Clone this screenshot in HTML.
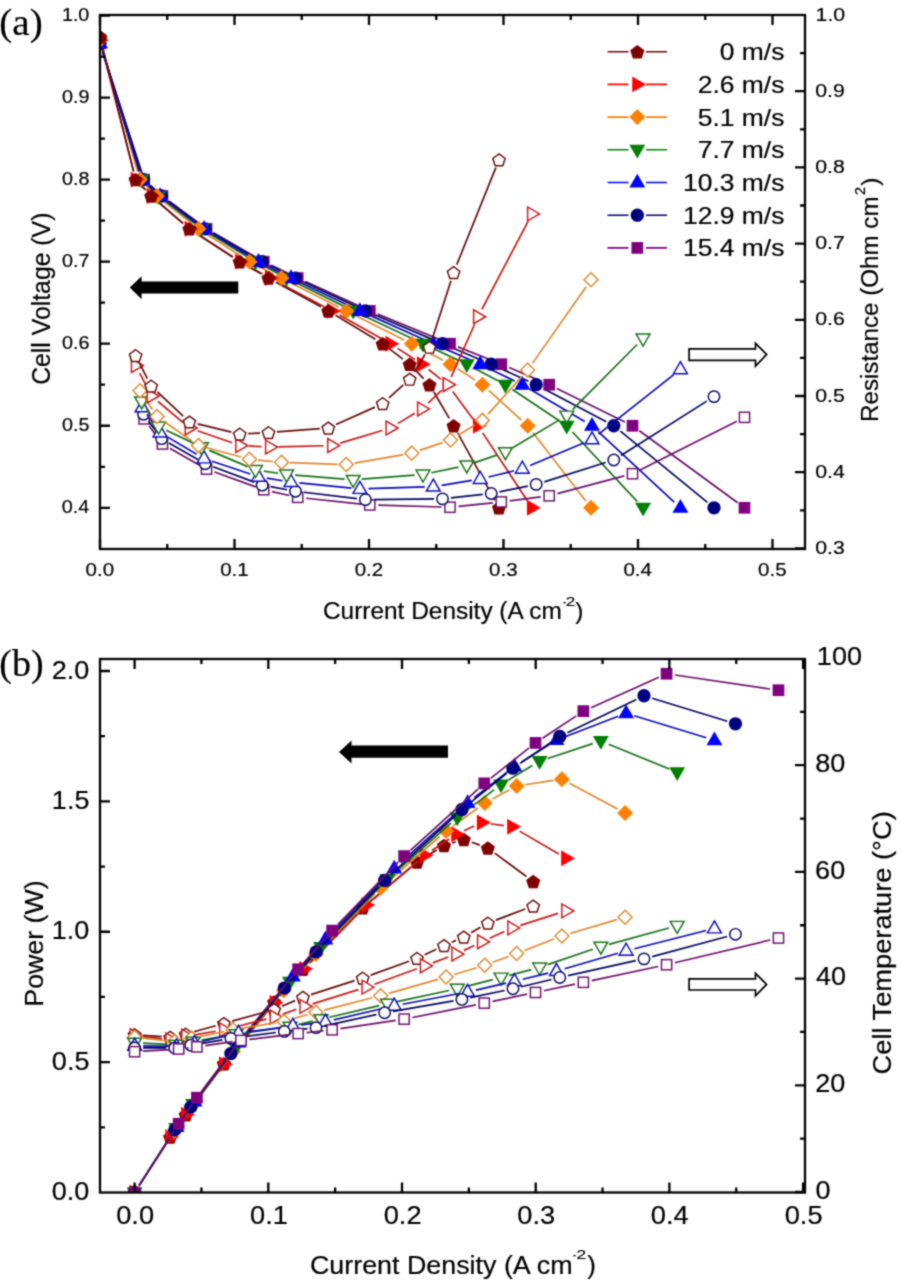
<!DOCTYPE html>
<html><head><meta charset="utf-8"><title>Figure</title>
<style>html,body{margin:0;padding:0;background:#fff;}svg{display:block;}
text{font-family:"Liberation Sans", sans-serif;fill:#000;stroke:#000;stroke-width:0.2px;}</style></head>
<body><svg width="901" height="1280" viewBox="0 0 901 1280">
<filter id="fb" x="0" y="0" width="901" height="1280" filterUnits="userSpaceOnUse" color-interpolation-filters="sRGB"><feConvolveMatrix order="3" kernelMatrix="1 2 1 2 8 2 1 2 1" divisor="20" edgeMode="duplicate"/></filter>
<g filter="url(#fb)">
<rect width="901" height="1280" fill="#fff"/>
<defs><clipPath id="ca"><rect x="101" y="16" width="703" height="532"/></clipPath>
<clipPath id="cb"><rect x="101" y="660" width="703" height="531.5"/></clipPath></defs>
<g clip-path="url(#ca)">
<path d="M102.11 48.35L133.69 171.37M141.7 185.72L145.7 189.89M158.03 201.57L183.17 223.27M196.73 233.46L233.07 257.02M247.65 265.75L262.55 273.96M277.52 282.03L324.58 306.91M339.51 315.04L383.09 339.54M397.62 348.34L414.88 359.57M428.64 369.51L441.06 379.42M452.75 391.56L472.95 418.91M482.67 432.85L527.33 500.7" fill="none" stroke="#c91717" stroke-width="1.7"/>
<path d="M102.34 48.29L137.66 171.43M146.12 185.5L150.88 190.11M163.67 201.28L191.83 223.56M205.65 233.43L242.35 257.05M257.06 265.53L273.94 274.18M289.08 281.9L338.72 307.04M353.9 314.69L404.2 339.89M419.31 347.68L442.99 360.23M457.65 368.81L475.25 380.13M488.7 390.43L521.4 420.04M532.89 432.48L585.81 501.07" fill="none" stroke="#e0872d" stroke-width="1.7"/>
<path d="M102.46 49.89L139.14 171.46M147.72 185.5L152.48 190.11M165.35 201.17L194.75 223.67M208.76 233.24L248.24 257.24M263.02 265.62L279.08 274.09M294.22 281.82L345.58 307.12M360.89 314.5L415.31 340.08M430.7 347.3L459.1 360.61M474.31 368.2L497.89 380.74M512.46 389.45L559.64 421.02M572.49 431.97L637.31 501.58" fill="none" stroke="#177017" stroke-width="1.7"/>
<path d="M102.62 51.48L141.48 171.51M150.43 185.27L156.07 190.34M169.22 201.08L199.68 223.76M213.87 233.06L256.33 257.42M271.36 265.34L290.04 274.37M305.44 281.58L362.06 307.36M377.67 314.1L442.13 340.48M457.89 346.86L493.41 361.06M509.11 367.56L541.39 381.38M556.83 388.48L624.87 421.99M639.36 430.77L737.64 502.78" fill="none" stroke="#691069" stroke-width="1.7"/>
<path d="M102.59 51.49L141.01 171.5M149.88 185.33L155.32 190.28M168.39 201.12L198.41 223.72M212.57 233.07L254.83 257.41M269.82 265.41L287.88 274.3M303.19 281.67L357.71 307.27M373.22 314.21L434.68 340.37M450.33 347L483.37 360.91M498.93 367.74L528.47 381.2M543.71 388.7L606.29 421.78M620.38 431.14L707.42 502.41" fill="none" stroke="#04045e" stroke-width="1.7"/>
<path d="M102.5 51.52L139.5 171.48M148.28 185.33L153.72 190.28M166.81 201.09L197.19 223.75M211.28 233.22L251.12 257.26M265.99 265.47L283.41 274.24M298.67 281.72L352.23 307.22M367.66 314.35L425.54 340.23M441.09 347.11L472.41 360.81M487.84 367.94L514.66 381M529.63 389.04L584.67 421.44M598.23 431.53L674.17 502.02" fill="none" stroke="#0909bb" stroke-width="1.7"/>
<path d="M102.06 45.08L133.54 171.35M141.46 185.76L145.34 189.85M157.65 201.55L182.95 223.29M196.52 233.47L232.58 257.01M247.09 265.86L261.11 273.85M275.95 282.15L320.85 306.79M335.58 315.27L375.42 339.31M389.47 348.84L402.93 359.07M415.6 370.33L423.6 378.61M433.81 392.05L449.29 418.42M457.72 433.19L494.88 500.36" fill="none" stroke="#650b0b" stroke-width="1.7"/>
<rect x="94.15" y="37.55" width="11.7" height="11.7" fill="#800080"/>
<rect x="138.25" y="173.75" width="11.7" height="11.7" fill="#800080"/>
<rect x="156.55" y="190.16" width="11.7" height="11.7" fill="#800080"/>
<rect x="200.65" y="222.98" width="11.7" height="11.7" fill="#800080"/>
<rect x="257.85" y="255.8" width="11.7" height="11.7" fill="#800080"/>
<rect x="291.85" y="272.21" width="11.7" height="11.7" fill="#800080"/>
<rect x="363.95" y="305.03" width="11.7" height="11.7" fill="#800080"/>
<rect x="444.15" y="337.85" width="11.7" height="11.7" fill="#800080"/>
<rect x="495.45" y="358.36" width="11.7" height="11.7" fill="#800080"/>
<rect x="543.35" y="378.87" width="11.7" height="11.7" fill="#800080"/>
<rect x="626.65" y="419.9" width="11.7" height="11.7" fill="#800080"/>
<rect x="738.65" y="501.95" width="11.7" height="11.7" fill="#800080"/>
<circle cx="100" cy="43.4" r="6.65" fill="#000080"/>
<circle cx="143.6" cy="179.6" r="6.65" fill="#000080"/>
<circle cx="161.6" cy="196.01" r="6.65" fill="#000080"/>
<circle cx="205.2" cy="228.83" r="6.65" fill="#000080"/>
<circle cx="262.2" cy="261.65" r="6.65" fill="#000080"/>
<circle cx="295.5" cy="278.06" r="6.65" fill="#000080"/>
<circle cx="365.4" cy="310.88" r="6.65" fill="#000080"/>
<circle cx="442.5" cy="343.7" r="6.65" fill="#000080"/>
<circle cx="491.2" cy="364.21" r="6.65" fill="#000080"/>
<circle cx="536.2" cy="384.72" r="6.65" fill="#000080"/>
<circle cx="613.8" cy="425.75" r="6.65" fill="#000080"/>
<circle cx="714" cy="507.8" r="6.65" fill="#000080"/>
<polygon points="100,50.5 92.03,36.7 107.97,36.7" fill="#008000"/>
<polygon points="141.6,188.34 133.63,174.54 149.57,174.54" fill="#008000"/>
<polygon points="158.6,204.75 150.63,190.95 166.57,190.95" fill="#008000"/>
<polygon points="201.5,237.57 193.53,223.77 209.47,223.77" fill="#008000"/>
<polygon points="255.5,270.39 247.53,256.59 263.47,256.59" fill="#008000"/>
<polygon points="286.6,286.8 278.63,273 294.57,273" fill="#008000"/>
<polygon points="353.2,319.62 345.23,305.82 361.17,305.82" fill="#008000"/>
<polygon points="423,352.44 415.03,338.64 430.97,338.64" fill="#008000"/>
<polygon points="466.8,372.95 458.83,359.15 474.77,359.15" fill="#008000"/>
<polygon points="505.4,393.46 497.43,379.66 513.37,379.66" fill="#008000"/>
<polygon points="566.7,434.49 558.73,420.69 574.67,420.69" fill="#008000"/>
<polygon points="643.1,516.54 635.13,502.74 651.07,502.74" fill="#008000"/>
<polygon points="100,34.66 107.97,48.46 92.03,48.46" fill="#0000ff"/>
<polygon points="142,170.86 149.97,184.66 134.03,184.66" fill="#0000ff"/>
<polygon points="160,187.27 167.97,201.07 152.03,201.07" fill="#0000ff"/>
<polygon points="204,220.09 211.97,233.89 196.03,233.89" fill="#0000ff"/>
<polygon points="258.4,252.91 266.37,266.71 250.43,266.71" fill="#0000ff"/>
<polygon points="291,269.32 298.97,283.12 283.03,283.12" fill="#0000ff"/>
<polygon points="359.9,302.14 367.87,315.94 351.93,315.94" fill="#0000ff"/>
<polygon points="433.3,334.96 441.27,348.76 425.33,348.76" fill="#0000ff"/>
<polygon points="480.2,355.47 488.17,369.27 472.23,369.27" fill="#0000ff"/>
<polygon points="522.3,375.98 530.27,389.78 514.33,389.78" fill="#0000ff"/>
<polygon points="592,417.01 599.97,430.81 584.03,430.81" fill="#0000ff"/>
<polygon points="680.4,499.06 688.37,512.86 672.43,512.86" fill="#0000ff"/>
<polygon points="100,32.12 108,40.12 100,48.12 92,40.12" fill="#ff8000"/>
<polygon points="140,171.6 148,179.6 140,187.6 132,179.6" fill="#ff8000"/>
<polygon points="157,188.01 165,196.01 157,204.01 149,196.01" fill="#ff8000"/>
<polygon points="198.5,220.83 206.5,228.83 198.5,236.83 190.5,228.83" fill="#ff8000"/>
<polygon points="249.5,253.65 257.5,261.65 249.5,269.65 241.5,261.65" fill="#ff8000"/>
<polygon points="281.5,270.06 289.5,278.06 281.5,286.06 273.5,278.06" fill="#ff8000"/>
<polygon points="346.3,302.88 354.3,310.88 346.3,318.88 338.3,310.88" fill="#ff8000"/>
<polygon points="411.8,335.7 419.8,343.7 411.8,351.7 403.8,343.7" fill="#ff8000"/>
<polygon points="450.5,356.21 458.5,364.21 450.5,372.21 442.5,364.21" fill="#ff8000"/>
<polygon points="482.4,376.72 490.4,384.72 482.4,392.72 474.4,384.72" fill="#ff8000"/>
<polygon points="527.7,417.75 535.7,425.75 527.7,433.75 519.7,425.75" fill="#ff8000"/>
<polygon points="591,499.8 599,507.8 591,515.8 583,507.8" fill="#ff8000"/>
<polygon points="108.74,40.12 94.94,48.08 94.94,32.15" fill="#ff0000"/>
<polygon points="144.54,179.6 130.74,187.57 130.74,171.63" fill="#ff0000"/>
<polygon points="160.34,196.01 146.54,203.98 146.54,188.04" fill="#ff0000"/>
<polygon points="198.34,228.83 184.54,236.8 184.54,220.86" fill="#ff0000"/>
<polygon points="248.94,261.65 235.14,269.62 235.14,253.68" fill="#ff0000"/>
<polygon points="278.74,278.06 264.94,286.03 264.94,270.09" fill="#ff0000"/>
<polygon points="340.84,310.88 327.04,318.85 327.04,302.91" fill="#ff0000"/>
<polygon points="399.24,343.7 385.44,351.67 385.44,335.73" fill="#ff0000"/>
<polygon points="430.74,364.21 416.94,372.18 416.94,356.25" fill="#ff0000"/>
<polygon points="456.44,384.72 442.64,392.69 442.64,376.76" fill="#ff0000"/>
<polygon points="486.74,425.75 472.94,433.72 472.94,417.78" fill="#ff0000"/>
<polygon points="540.74,507.8 526.94,515.77 526.94,499.83" fill="#ff0000"/>
<polygon points="100,30.13 107.09,35.28 104.38,43.61 95.62,43.61 92.91,35.28" fill="#800000"/>
<polygon points="135.6,172.89 142.69,178.04 139.98,186.37 131.22,186.37 128.51,178.04" fill="#800000"/>
<polygon points="151.2,189.31 158.29,194.45 155.58,202.78 146.82,202.78 144.11,194.45" fill="#800000"/>
<polygon points="189.4,222.13 196.49,227.27 193.78,235.6 185.02,235.6 182.31,227.27" fill="#800000"/>
<polygon points="239.7,254.95 246.79,260.09 244.08,268.42 235.32,268.42 232.61,260.09" fill="#800000"/>
<polygon points="268.5,271.35 275.59,276.5 272.88,284.83 264.12,284.83 261.41,276.5" fill="#800000"/>
<polygon points="328.3,304.18 335.39,309.32 332.68,317.65 323.92,317.65 321.21,309.32" fill="#800000"/>
<polygon points="382.7,337 389.79,342.14 387.08,350.47 378.32,350.47 375.61,342.14" fill="#800000"/>
<polygon points="409.7,357.51 416.79,362.66 414.08,370.98 405.32,370.98 402.61,362.66" fill="#800000"/>
<polygon points="429.5,378.02 436.59,383.17 433.88,391.5 425.12,391.5 422.41,383.17" fill="#800000"/>
<polygon points="453.6,419.05 460.69,424.19 457.98,432.52 449.22,432.52 446.51,424.19" fill="#800000"/>
<polygon points="499,501.09 506.09,506.24 503.38,514.57 494.62,514.57 491.91,506.24" fill="#800000"/>
<path d="M149.1 425.73L157.4 437.13M169.78 448.22L199.12 464.94M214.5 472.03L255.7 486.85M271.99 491.58L289.41 495.49M306.15 498.24L361.35 504.07M378.3 505.21L441.5 507.01M458.45 506.37L492.85 502.8M509.73 500.84L540.77 496.9M557.42 493.64L624.28 475.9M640.09 469.9L736.91 421.16" fill="none" stroke="#691069" stroke-width="1.7"/>
<rect x="139" y="413.76" width="10.2" height="10.2" fill="#fff" stroke="#691069" stroke-width="1.45"/>
<rect x="157.3" y="438.91" width="10.2" height="10.2" fill="#fff" stroke="#691069" stroke-width="1.45"/>
<rect x="201.4" y="464.05" width="10.2" height="10.2" fill="#fff" stroke="#691069" stroke-width="1.45"/>
<rect x="258.6" y="484.63" width="10.2" height="10.2" fill="#fff" stroke="#691069" stroke-width="1.45"/>
<rect x="292.6" y="492.25" width="10.2" height="10.2" fill="#fff" stroke="#691069" stroke-width="1.45"/>
<rect x="364.7" y="499.87" width="10.2" height="10.2" fill="#fff" stroke="#691069" stroke-width="1.45"/>
<rect x="444.9" y="502.15" width="10.2" height="10.2" fill="#fff" stroke="#691069" stroke-width="1.45"/>
<rect x="496.2" y="496.82" width="10.2" height="10.2" fill="#fff" stroke="#691069" stroke-width="1.45"/>
<rect x="544.1" y="490.72" width="10.2" height="10.2" fill="#fff" stroke="#691069" stroke-width="1.45"/>
<rect x="627.4" y="468.62" width="10.2" height="10.2" fill="#fff" stroke="#691069" stroke-width="1.45"/>
<rect x="739.4" y="412.24" width="10.2" height="10.2" fill="#fff" stroke="#691069" stroke-width="1.45"/>
<path d="M148.65 421.13L156.55 431.83M168.96 442.92L197.84 459.57M213.16 466.8L254.24 482.17M270.56 486.68L287.14 489.72M303.94 492.26L356.96 498.62M373.9 499.55L434 498.95M450.95 497.94L482.75 494.46M499.53 491.84L527.87 486.08M544.31 481.84L605.69 462.56M620.98 455.46L706.82 401.15" fill="none" stroke="#04045e" stroke-width="1.7"/>
<circle cx="143.6" cy="414.29" r="5.7" fill="#fff" stroke="#04045e" stroke-width="1.45"/>
<circle cx="161.6" cy="438.67" r="5.7" fill="#fff" stroke="#04045e" stroke-width="1.45"/>
<circle cx="205.2" cy="463.82" r="5.7" fill="#fff" stroke="#04045e" stroke-width="1.45"/>
<circle cx="262.2" cy="485.15" r="5.7" fill="#fff" stroke="#04045e" stroke-width="1.45"/>
<circle cx="295.5" cy="491.25" r="5.7" fill="#fff" stroke="#04045e" stroke-width="1.45"/>
<circle cx="365.4" cy="499.63" r="5.7" fill="#fff" stroke="#04045e" stroke-width="1.45"/>
<circle cx="442.5" cy="498.87" r="5.7" fill="#fff" stroke="#04045e" stroke-width="1.45"/>
<circle cx="491.2" cy="493.54" r="5.7" fill="#fff" stroke="#04045e" stroke-width="1.45"/>
<circle cx="536.2" cy="484.39" r="5.7" fill="#fff" stroke="#04045e" stroke-width="1.45"/>
<circle cx="613.8" cy="460.01" r="5.7" fill="#fff" stroke="#04045e" stroke-width="1.45"/>
<circle cx="714" cy="396.61" r="5.7" fill="#fff" stroke="#04045e" stroke-width="1.45"/>
<path d="M146.95 414.34L155.05 425.66M167.32 436.89L196.68 454.17M212.06 461.19L250.34 474.06M266.79 478.14L282.61 480.73M299.46 482.95L351.44 488.12M368.4 488.7L424.8 486.94M441.69 485.31L471.81 480.42M488.46 477.04L514.04 470.79M530.13 465.47L584.17 442.73M598.66 434.15L673.74 374.61" fill="none" stroke="#0909bb" stroke-width="1.7"/>
<polygon points="142,399.83 148.93,411.83 135.07,411.83" fill="#fff" stroke="#0909bb" stroke-width="1.45"/>
<polygon points="160,424.98 166.93,436.98 153.07,436.98" fill="#fff" stroke="#0909bb" stroke-width="1.45"/>
<polygon points="204,450.88 210.93,462.88 197.07,462.88" fill="#fff" stroke="#0909bb" stroke-width="1.45"/>
<polygon points="258.4,469.17 265.33,481.17 251.47,481.17" fill="#fff" stroke="#0909bb" stroke-width="1.45"/>
<polygon points="291,474.51 297.93,486.51 284.07,486.51" fill="#fff" stroke="#0909bb" stroke-width="1.45"/>
<polygon points="359.9,481.36 366.83,493.36 352.97,493.36" fill="#fff" stroke="#0909bb" stroke-width="1.45"/>
<polygon points="433.3,479.08 440.23,491.08 426.37,491.08" fill="#fff" stroke="#0909bb" stroke-width="1.45"/>
<polygon points="480.2,471.46 487.13,483.46 473.27,483.46" fill="#fff" stroke="#0909bb" stroke-width="1.45"/>
<polygon points="522.3,461.17 529.23,473.17 515.37,473.17" fill="#fff" stroke="#0909bb" stroke-width="1.45"/>
<polygon points="592,431.83 598.93,443.83 585.07,443.83" fill="#fff" stroke="#0909bb" stroke-width="1.45"/>
<polygon points="680.4,361.73 687.33,373.73 673.47,373.73" fill="#fff" stroke="#0909bb" stroke-width="1.45"/>
<path d="M146.36 408.38L153.84 419.44M166.26 430.16L193.84 443.38M209.33 450.37L247.67 466.6M263.91 471.15L278.19 473.25M295.07 475.16L344.73 479.14M361.68 479.17L414.52 475.13M431.32 472.75L458.48 467.08M474.84 462.58L497.36 454.84M512.7 447.73L559.4 419.86M572.69 409.47L637.11 344.5" fill="none" stroke="#177017" stroke-width="1.7"/>
<polygon points="141.6,408.93 134.67,396.93 148.53,396.93" fill="#fff" stroke="#177017" stroke-width="1.45"/>
<polygon points="158.6,434.08 151.67,422.08 165.53,422.08" fill="#fff" stroke="#177017" stroke-width="1.45"/>
<polygon points="201.5,454.65 194.57,442.65 208.43,442.65" fill="#fff" stroke="#177017" stroke-width="1.45"/>
<polygon points="255.5,477.51 248.57,465.51 262.43,465.51" fill="#fff" stroke="#177017" stroke-width="1.45"/>
<polygon points="286.6,482.09 279.67,470.09 293.53,470.09" fill="#fff" stroke="#177017" stroke-width="1.45"/>
<polygon points="353.2,487.42 346.27,475.42 360.13,475.42" fill="#fff" stroke="#177017" stroke-width="1.45"/>
<polygon points="423,482.09 416.07,470.09 429.93,470.09" fill="#fff" stroke="#177017" stroke-width="1.45"/>
<polygon points="466.8,472.94 459.87,460.94 473.73,460.94" fill="#fff" stroke="#177017" stroke-width="1.45"/>
<polygon points="505.4,459.68 498.47,447.68 512.33,447.68" fill="#fff" stroke="#177017" stroke-width="1.45"/>
<polygon points="566.7,423.11 559.77,411.11 573.63,411.11" fill="#fff" stroke="#177017" stroke-width="1.45"/>
<polygon points="643.1,346.07 636.17,334.07 650.03,334.07" fill="#fff" stroke="#177017" stroke-width="1.45"/>
<path d="M144.66 397.77L152.34 409.47M163.97 421.44L191.53 440.67M206.71 447.74L241.29 457.04M257.96 460.05L273.04 461.49M289.99 462.59L337.81 464.28M354.67 463.12L403.43 454.61M419.84 450.4L442.46 442.65M457.75 435.46L475.15 424.82M488.09 414.07L522.01 376.41M532.58 363.13L586.12 286.76" fill="none" stroke="#e0872d" stroke-width="1.7"/>
<polygon points="140,383.67 147,390.67 140,397.67 133,390.67" fill="#fff" stroke="#e0872d" stroke-width="1.45"/>
<polygon points="157,409.57 164,416.57 157,423.57 150,416.57" fill="#fff" stroke="#e0872d" stroke-width="1.45"/>
<polygon points="198.5,438.53 205.5,445.53 198.5,452.53 191.5,445.53" fill="#fff" stroke="#e0872d" stroke-width="1.45"/>
<polygon points="249.5,452.25 256.5,459.25 249.5,466.25 242.5,459.25" fill="#fff" stroke="#e0872d" stroke-width="1.45"/>
<polygon points="281.5,455.29 288.5,462.29 281.5,469.29 274.5,462.29" fill="#fff" stroke="#e0872d" stroke-width="1.45"/>
<polygon points="346.3,457.58 353.3,464.58 346.3,471.58 339.3,464.58" fill="#fff" stroke="#e0872d" stroke-width="1.45"/>
<polygon points="411.8,446.15 418.8,453.15 411.8,460.15 404.8,453.15" fill="#fff" stroke="#e0872d" stroke-width="1.45"/>
<polygon points="450.5,432.89 457.5,439.89 450.5,446.89 443.5,439.89" fill="#fff" stroke="#e0872d" stroke-width="1.45"/>
<polygon points="482.4,413.38 489.4,420.38 482.4,427.38 475.4,420.38" fill="#fff" stroke="#e0872d" stroke-width="1.45"/>
<polygon points="527.7,363.09 534.7,370.09 527.7,377.09 520.7,370.09" fill="#fff" stroke="#e0872d" stroke-width="1.45"/>
<polygon points="591,272.8 598,279.8 591,286.8 584,279.8" fill="#fff" stroke="#e0872d" stroke-width="1.45"/>
<path d="M139.71 373.07L147.69 388.45M158.1 401.48L183.1 422.53M197.63 430.79L232.17 442.75M248.69 445.96L261.51 446.62M278.5 446.85L323.6 445.74M340.24 443.09L382.36 430.45M397.77 423.61L414.73 413.35M428.17 403.1L441.53 390.42M451.17 376.81L474.53 324.51M481.95 309.23L528.05 221.41" fill="none" stroke="#c91717" stroke-width="1.7"/>
<polygon points="143.4,365.52 131.4,372.45 131.4,358.59" fill="#fff" stroke="#c91717" stroke-width="1.45"/>
<polygon points="159.2,396 147.2,402.93 147.2,389.07" fill="#fff" stroke="#c91717" stroke-width="1.45"/>
<polygon points="197.2,428 185.2,434.93 185.2,421.08" fill="#fff" stroke="#c91717" stroke-width="1.45"/>
<polygon points="247.8,445.53 235.8,452.46 235.8,438.6" fill="#fff" stroke="#c91717" stroke-width="1.45"/>
<polygon points="277.6,447.05 265.6,453.98 265.6,440.13" fill="#fff" stroke="#c91717" stroke-width="1.45"/>
<polygon points="339.7,445.53 327.7,452.46 327.7,438.6" fill="#fff" stroke="#c91717" stroke-width="1.45"/>
<polygon points="398.1,428 386.1,434.93 386.1,421.08" fill="#fff" stroke="#c91717" stroke-width="1.45"/>
<polygon points="429.6,408.95 417.6,415.88 417.6,402.03" fill="#fff" stroke="#c91717" stroke-width="1.45"/>
<polygon points="455.3,384.57 443.3,391.5 443.3,377.64" fill="#fff" stroke="#c91717" stroke-width="1.45"/>
<polygon points="485.6,316.75 473.6,323.68 473.6,309.82" fill="#fff" stroke="#c91717" stroke-width="1.45"/>
<polygon points="539.6,213.88 527.6,220.81 527.6,206.95" fill="#fff" stroke="#c91717" stroke-width="1.45"/>
<path d="M139.47 363.18L147.33 378.53M157.4 391.91L183.2 416.09M197.66 423.91L231.44 432.1M248.19 433.65L260.01 433.03M276.98 431.93L319.82 428.65M336.06 424.53L374.94 407.1M389.01 397.92L403.39 384.93M414.17 372.01L425.03 354.46M432.11 339.14L450.99 280.65M456.77 264.67L495.83 167.67" fill="none" stroke="#650b0b" stroke-width="1.7"/>
<polygon points="135.6,349.76 141.78,354.26 139.42,361.52 131.78,361.52 129.42,354.26" fill="#fff" stroke="#650b0b" stroke-width="1.45"/>
<polygon points="151.2,380.24 157.38,384.74 155.02,392 147.38,392 145.02,384.74" fill="#fff" stroke="#650b0b" stroke-width="1.45"/>
<polygon points="189.4,416.06 195.58,420.55 193.22,427.82 185.58,427.82 183.22,420.55" fill="#fff" stroke="#650b0b" stroke-width="1.45"/>
<polygon points="239.7,428.25 245.88,432.74 243.52,440.01 235.88,440.01 233.52,432.74" fill="#fff" stroke="#650b0b" stroke-width="1.45"/>
<polygon points="268.5,426.73 274.68,431.22 272.32,438.48 264.68,438.48 262.32,431.22" fill="#fff" stroke="#650b0b" stroke-width="1.45"/>
<polygon points="328.3,422.15 334.48,426.65 332.12,433.91 324.48,433.91 322.12,426.65" fill="#fff" stroke="#650b0b" stroke-width="1.45"/>
<polygon points="382.7,397.77 388.88,402.26 386.52,409.53 378.88,409.53 376.52,402.26" fill="#fff" stroke="#650b0b" stroke-width="1.45"/>
<polygon points="409.7,373.39 415.88,377.88 413.52,385.14 405.88,385.14 403.52,377.88" fill="#fff" stroke="#650b0b" stroke-width="1.45"/>
<polygon points="429.5,341.38 435.68,345.87 433.32,353.14 425.68,353.14 423.32,345.87" fill="#fff" stroke="#650b0b" stroke-width="1.45"/>
<polygon points="453.6,266.71 459.78,271.2 457.42,278.46 449.78,278.46 447.42,271.2" fill="#fff" stroke="#650b0b" stroke-width="1.45"/>
<polygon points="499,153.93 505.18,158.42 502.82,165.69 495.18,165.69 492.82,158.42" fill="#fff" stroke="#650b0b" stroke-width="1.45"/>
</g>
<rect x="100" y="15" width="705" height="534" fill="none" stroke="#000" stroke-width="2.3"/>
<path d="M100 549v-10M100 15v10M167.25 549v-5M167.25 15v5M234.5 549v-10M234.5 15v10M301.75 549v-5M301.75 15v5M369 549v-10M369 15v10M436.25 549v-5M436.25 15v5M503.5 549v-10M503.5 15v10M570.75 549v-5M570.75 15v5M638 549v-10M638 15v10M705.25 549v-5M705.25 15v5M772.5 549v-10M772.5 15v10M100 15.5h10M100 56.53h5M100 97.55h10M100 138.58h5M100 179.6h10M100 220.62h5M100 261.65h10M100 302.68h5M100 343.7h10M100 384.72h5M100 425.75h10M100 466.78h5M100 507.8h10M805 53.1h-5M805 91.2h-10M805 129.3h-5M805 167.4h-10M805 205.5h-5M805 243.6h-10M805 281.7h-5M805 319.8h-10M805 357.9h-5M805 396h-10M805 434.1h-5M805 472.2h-10M805 510.3h-5M805 548.4h-10" stroke="#000" stroke-width="2.3" fill="none"/>
<text transform="translate(61.90,20.80) scale(1.0400,1)" font-size="19">1.0</text>
<text transform="translate(62.06,102.85) scale(1.0400,1)" font-size="19">0.9</text>
<text transform="translate(61.98,184.90) scale(1.0400,1)" font-size="19">0.8</text>
<text transform="translate(62.12,266.95) scale(1.0400,1)" font-size="19">0.7</text>
<text transform="translate(62.00,349.00) scale(1.0400,1)" font-size="19">0.6</text>
<text transform="translate(61.96,431.05) scale(1.0400,1)" font-size="19">0.5</text>
<text transform="translate(61.71,513.10) scale(1.0400,1)" font-size="19">0.4</text>
<text transform="translate(85.54,575.60) scale(1.0800,1)" font-size="19">0.0</text>
<text transform="translate(220.14,575.60) scale(1.0800,1)" font-size="19">0.1</text>
<text transform="translate(354.65,575.60) scale(1.0800,1)" font-size="19">0.2</text>
<text transform="translate(489.09,575.60) scale(1.0800,1)" font-size="19">0.3</text>
<text transform="translate(623.44,575.60) scale(1.0800,1)" font-size="19">0.4</text>
<text transform="translate(758.07,575.60) scale(1.0800,1)" font-size="19">0.5</text>
<text transform="translate(815.58,20.50) scale(1.1200,1)" font-size="19">1.0</text>
<text transform="translate(815.17,96.70) scale(1.1200,1)" font-size="19">0.9</text>
<text transform="translate(815.17,172.90) scale(1.1200,1)" font-size="19">0.8</text>
<text transform="translate(815.17,249.10) scale(1.1200,1)" font-size="19">0.7</text>
<text transform="translate(815.17,325.30) scale(1.1200,1)" font-size="19">0.6</text>
<text transform="translate(815.17,401.50) scale(1.1200,1)" font-size="19">0.5</text>
<text transform="translate(815.17,477.70) scale(1.1200,1)" font-size="19">0.4</text>
<text transform="translate(815.17,553.90) scale(1.1200,1)" font-size="19">0.3</text>
<text transform="translate(50.30,384.87) rotate(-90) scale(0.9925,1)" font-size="25">Cell Voltage (V)</text>
<text transform="translate(877.50,421.98) rotate(-90) scale(0.9863,1)" font-size="24.5">Resistance (Ohm cm</text>
<text transform="translate(864.90,195.12) rotate(-90) scale(1.0338,1)" font-size="14">2</text>
<text transform="translate(877.50,185.75) rotate(-90) scale(1.0000,1)" font-size="24.5">)</text>
<text transform="translate(322.95,619.00) scale(1.0181,1)" font-size="24">Current Density (A cm</text>
<text transform="translate(562.89,606.10) scale(0.7000,1)" font-size="13.4">-</text>
<text transform="translate(565.64,606.10) scale(1.2765,1)" font-size="13.4">2</text>
<text transform="translate(575.15,619.00) scale(1.0000,1)" font-size="24.5">)</text>
<text transform="translate(-0.72,35.00) scale(1.0273,1)" font-size="38.1" style="font-family:'Liberation Serif', serif">(a)</text>
<path d="M607.5 51.7H628.5M646 51.7H667" stroke="#800000" stroke-width="1.6"/>
<polygon points="637.3,44.99 644.39,50.14 641.68,58.47 632.92,58.47 630.21,50.14" fill="#800000"/>
<text transform="translate(719.79,60.20) scale(1.1400,1)" font-size="23.2">0 m/s</text>
<path d="M607.5 84.4H628.5M646 84.4H667" stroke="#ff0000" stroke-width="1.6"/>
<polygon points="646.04,84.4 632.24,92.37 632.24,76.43" fill="#ff0000"/>
<text transform="translate(697.73,92.90) scale(1.1400,1)" font-size="23.2">2.6 m/s</text>
<path d="M607.5 117.1H628.5M646 117.1H667" stroke="#ff8000" stroke-width="1.6"/>
<polygon points="637.3,109.1 645.3,117.1 637.3,125.1 629.3,117.1" fill="#ff8000"/>
<text transform="translate(697.73,125.60) scale(1.1400,1)" font-size="23.2">5.1 m/s</text>
<path d="M607.5 149.8H628.5M646 149.8H667" stroke="#008000" stroke-width="1.6"/>
<polygon points="637.3,158.54 629.33,144.74 645.27,144.74" fill="#008000"/>
<text transform="translate(697.73,158.30) scale(1.1400,1)" font-size="23.2">7.7 m/s</text>
<path d="M607.5 182.5H628.5M646 182.5H667" stroke="#0000ff" stroke-width="1.6"/>
<polygon points="637.3,173.76 645.27,187.56 629.33,187.56" fill="#0000ff"/>
<text transform="translate(683.02,191.00) scale(1.1400,1)" font-size="23.2">10.3 m/s</text>
<path d="M607.5 215.2H628.5M646 215.2H667" stroke="#000080" stroke-width="1.6"/>
<circle cx="637.3" cy="215.2" r="6.65" fill="#000080"/>
<text transform="translate(683.02,223.70) scale(1.1400,1)" font-size="23.2">12.9 m/s</text>
<path d="M607.5 247.9H628.5M646 247.9H667" stroke="#800080" stroke-width="1.6"/>
<rect x="631.45" y="242.05" width="11.7" height="11.7" fill="#800080"/>
<text transform="translate(683.02,256.40) scale(1.1400,1)" font-size="23.2">15.4 m/s</text>
<polygon points="129.8,287.4 141.6,276.3 141.6,281.6 238.3,281.6 238.3,293.4 141.6,293.4 141.6,299.3" fill="#000"/>
<polygon points="689.1,348.9 755.5,348.9 755.5,343.3 766.6,354.4 755.5,366.1 755.5,360.3 689.1,360.3" fill="#fff" stroke="#000" stroke-width="1.7"/>
<g clip-path="url(#cb)">
<path d="M139.19 1185.34L165.58 1144.17M175.03 1130.04L180.88 1121.66M190.84 1107.88L218.83 1070.41M229.28 1057.02L268.79 1008.56M279.78 995.59L297.32 975.64M308.86 963.16L356.75 913.92M369.18 902.34L410.52 867.5M424.28 857.59L436.74 849.97M452.12 843.02L455.66 841.93M471.78 842.27L479.85 845.17M494.69 853.08L526.37 876.49" fill="none" stroke="#650b0b" stroke-width="1.7"/>
<polygon points="134.6,1185.79 141.69,1190.94 138.98,1199.27 130.22,1199.27 127.51,1190.94" fill="#800000"/>
<polygon points="170.17,1130.31 177.25,1135.45 174.54,1143.78 165.79,1143.78 163.08,1135.45" fill="#800000"/>
<polygon points="185.75,1107.99 192.84,1113.13 190.13,1121.46 181.37,1121.46 178.66,1113.13" fill="#800000"/>
<polygon points="223.91,1056.9 231,1062.05 228.29,1070.38 219.53,1070.38 216.83,1062.05" fill="#800000"/>
<polygon points="274.16,995.27 281.25,1000.41 278.54,1008.74 269.78,1008.74 267.08,1000.41" fill="#800000"/>
<polygon points="302.94,962.55 310.02,967.7 307.31,976.03 298.56,976.03 295.85,967.7" fill="#800000"/>
<polygon points="362.68,901.12 369.76,906.26 367.06,914.59 358.3,914.59 355.59,906.26" fill="#800000"/>
<polygon points="417.02,855.32 424.11,860.46 421.4,868.79 412.64,868.79 409.94,860.46" fill="#800000"/>
<polygon points="444,838.84 451.08,843.98 448.38,852.31 439.62,852.31 436.91,843.98" fill="#800000"/>
<polygon points="463.78,832.7 470.86,837.85 468.16,846.18 459.4,846.18 456.69,837.85" fill="#800000"/>
<polygon points="487.85,841.33 494.94,846.47 492.23,854.8 483.48,854.8 480.77,846.47" fill="#800000"/>
<polygon points="533.21,874.84 540.3,879.99 537.59,888.31 528.83,888.31 526.12,879.99" fill="#800000"/>
<path d="M139.21 1185.36L165.76 1144.23M175.25 1130.14L181.26 1121.59M191.26 1107.84L219 1071.01M229.5 1057.65L269.27 1009.2M280.28 996.25L298.81 975.22M310.36 962.76L360.54 911.2M372.94 899.59L418.35 860.8M431.89 850.56L449.21 839M464.01 830.74L474.23 826.06M490.37 823.72L503.82 825.64M519.58 831.11L558.83 853.91" fill="none" stroke="#c91717" stroke-width="1.7"/>
<polygon points="143.34,1192.5 129.54,1200.47 129.54,1184.53" fill="#ff0000"/>
<polygon points="179.1,1137.09 165.3,1145.06 165.3,1129.12" fill="#ff0000"/>
<polygon points="194.89,1114.63 181.09,1122.6 181.09,1106.66" fill="#ff0000"/>
<polygon points="232.85,1064.22 219.05,1072.19 219.05,1056.25" fill="#ff0000"/>
<polygon points="283.4,1002.63 269.6,1010.59 269.6,994.66" fill="#ff0000"/>
<polygon points="313.17,968.85 299.37,976.81 299.37,960.88" fill="#ff0000"/>
<polygon points="375.21,905.11 361.41,913.08 361.41,897.14" fill="#ff0000"/>
<polygon points="433.56,855.28 419.76,863.25 419.76,847.31" fill="#ff0000"/>
<polygon points="465.03,834.29 451.23,842.25 451.23,826.32" fill="#ff0000"/>
<polygon points="490.7,822.51 476.9,830.48 476.9,814.55" fill="#ff0000"/>
<polygon points="520.97,826.84 507.17,834.81 507.17,818.87" fill="#ff0000"/>
<polygon points="574.92,858.18 561.12,866.15 561.12,850.21" fill="#ff0000"/>
<path d="M139.21 1185.36L169.95 1137.79M179.46 1123.71L186.65 1113.52M196.66 1099.78L227.88 1058.41M238.43 1045.08L278.53 996.78M289.57 983.86L310.3 960.33M321.87 947.88L374.71 893.91M387.07 882.26L439.68 836.5M452.98 825.94L477.87 807.95M492.26 798.98L509.12 790M525.03 784.73L553.48 780.44M569.38 783.18L617.62 808.9" fill="none" stroke="#e0872d" stroke-width="1.7"/>
<polygon points="134.6,1184.5 142.6,1192.5 134.6,1200.5 126.6,1192.5" fill="#ff8000"/>
<polygon points="174.56,1122.65 182.56,1130.65 174.56,1138.65 166.56,1130.65" fill="#ff8000"/>
<polygon points="191.54,1098.57 199.54,1106.57 191.54,1114.57 183.54,1106.57" fill="#ff8000"/>
<polygon points="233,1043.62 241,1051.62 233,1059.62 225,1051.62" fill="#ff8000"/>
<polygon points="283.95,982.24 291.95,990.24 283.95,998.24 275.95,990.24" fill="#ff8000"/>
<polygon points="315.92,945.96 323.92,953.96 315.92,961.96 307.92,953.96" fill="#ff8000"/>
<polygon points="380.66,879.83 388.66,887.83 380.66,895.83 372.66,887.83" fill="#ff8000"/>
<polygon points="446.1,822.92 454.1,830.92 446.1,838.92 438.1,830.92" fill="#ff8000"/>
<polygon points="484.76,794.97 492.76,802.97 484.76,810.97 476.76,802.97" fill="#ff8000"/>
<polygon points="516.63,778 524.63,786 516.63,794 508.63,786" fill="#ff8000"/>
<polygon points="561.88,771.18 569.88,779.18 561.88,787.18 553.88,779.18" fill="#ff8000"/>
<polygon points="625.12,804.9 633.12,812.9 625.12,820.9 617.12,812.9" fill="#ff8000"/>
<path d="M139.21 1185.36L171.55 1135.25M181.06 1121.17L188.24 1111.01M198.26 1097.28L230.89 1053.97M241.42 1040.63L284.53 988.46M295.6 975.56L315.37 953.36M326.96 940.93L381.61 885.06M393.93 873.36L450.91 823.17M464.06 812.42L494.26 789.58M508.31 780.05L532.33 765.52M547.68 758.47L592.77 743.68M608.71 744.25L669.3 768.99" fill="none" stroke="#177017" stroke-width="1.7"/>
<polygon points="134.6,1201.24 126.63,1187.44 142.57,1187.44" fill="#008000"/>
<polygon points="176.16,1136.85 168.19,1123.05 184.13,1123.05" fill="#008000"/>
<polygon points="193.14,1112.81 185.18,1099.01 201.11,1099.01" fill="#008000"/>
<polygon points="236,1055.92 228.03,1042.12 243.97,1042.12" fill="#008000"/>
<polygon points="289.95,990.65 281.98,976.85 297.92,976.85" fill="#008000"/>
<polygon points="321.02,955.75 313.05,941.95 328.98,941.95" fill="#008000"/>
<polygon points="387.55,887.72 379.59,873.92 395.52,873.92" fill="#008000"/>
<polygon points="457.28,826.29 449.32,812.49 465.25,812.49" fill="#008000"/>
<polygon points="501.04,793.19 493.07,779.39 509.01,779.39" fill="#008000"/>
<polygon points="539.6,769.86 531.64,756.06 547.57,756.06" fill="#008000"/>
<polygon points="600.84,749.77 592.88,735.97 608.81,735.97" fill="#008000"/>
<polygon points="677.17,780.94 669.2,767.14 685.14,767.14" fill="#008000"/>
<path d="M139.19 1185.34L171.97 1134.19M181.43 1120.07L189.67 1108.28M199.63 1094.51L233.41 1049.36M243.9 1035.99L287.45 983.03M298.46 970.08L319.8 945.83M331.33 933.34L388.33 874.52M400.58 862.75L461.24 808.53M474.29 797.66L507.71 771.77M521.61 762.02L549.3 744.51M564.42 736.92L618.18 716.25M634.25 715.69L706.3 737.69" fill="none" stroke="#0909bb" stroke-width="1.7"/>
<polygon points="134.6,1183.76 142.57,1197.56 126.63,1197.56" fill="#0000ff"/>
<polygon points="176.56,1118.3 184.53,1132.1 168.59,1132.1" fill="#0000ff"/>
<polygon points="194.54,1092.58 202.51,1106.38 186.57,1106.38" fill="#0000ff"/>
<polygon points="238.5,1033.81 246.47,1047.61 230.53,1047.61" fill="#0000ff"/>
<polygon points="292.85,967.73 300.81,981.53 284.88,981.53" fill="#0000ff"/>
<polygon points="325.41,930.71 333.38,944.51 317.45,944.51" fill="#0000ff"/>
<polygon points="394.25,859.68 402.21,873.48 386.28,873.48" fill="#0000ff"/>
<polygon points="467.57,794.13 475.54,807.93 459.61,807.93" fill="#0000ff"/>
<polygon points="514.43,757.82 522.4,771.62 506.46,771.62" fill="#0000ff"/>
<polygon points="556.49,731.23 564.45,745.03 548.52,745.03" fill="#0000ff"/>
<polygon points="626.12,704.46 634.09,718.26 618.15,718.26" fill="#0000ff"/>
<polygon points="714.43,731.43 722.4,745.23 706.47,745.23" fill="#0000ff"/>
<path d="M139.19 1185.34L170.12 1137.08M179.6 1122.96L185.87 1114.03M195.85 1100.28L225.77 1060.37M236.24 1046.99L278.97 994.66M289.94 981.68L310.43 958.28M321.92 945.76L378.73 886.57M390.88 874.69L455.64 815.26M468.51 804.16L506.36 773.54M520.01 763.42L552.73 741.22M567.42 732.75L636.34 699.47M652.12 698.26L727.32 721.29" fill="none" stroke="#04045e" stroke-width="1.7"/>
<circle cx="134.6" cy="1192.5" r="6.65" fill="#000080"/>
<circle cx="174.71" cy="1129.92" r="6.65" fill="#000080"/>
<circle cx="190.75" cy="1107.08" r="6.65" fill="#000080"/>
<circle cx="230.86" cy="1053.57" r="6.65" fill="#000080"/>
<circle cx="284.34" cy="988.07" r="6.65" fill="#000080"/>
<circle cx="316.03" cy="951.89" r="6.65" fill="#000080"/>
<circle cx="384.62" cy="880.43" r="6.65" fill="#000080"/>
<circle cx="461.9" cy="809.51" r="6.65" fill="#000080"/>
<circle cx="512.97" cy="768.19" r="6.65" fill="#000080"/>
<circle cx="559.77" cy="736.45" r="6.65" fill="#000080"/>
<circle cx="644" cy="695.77" r="6.65" fill="#000080"/>
<circle cx="735.45" cy="723.78" r="6.65" fill="#000080"/>
<path d="M139.19 1185.34L174.07 1130.92M183.53 1116.8L192.06 1104.63M202.04 1090.87L235.89 1045.75M246.38 1032.38L292.75 975.81M303.75 962.85L326.5 936.96M338.02 924.46L398.23 862.18M410.43 850.36L477.96 789.06M490.93 778.08L528.83 748.19M542.59 738.22L576.28 715.84M591.11 707.66L658.83 677.23M674.99 674.99L770.06 688.98" fill="none" stroke="#691069" stroke-width="1.7"/>
<rect x="128.75" y="1186.65" width="11.7" height="11.7" fill="#800080"/>
<rect x="172.81" y="1117.91" width="11.7" height="11.7" fill="#800080"/>
<rect x="191.09" y="1091.82" width="11.7" height="11.7" fill="#800080"/>
<rect x="235.15" y="1033.1" width="11.7" height="11.7" fill="#800080"/>
<rect x="292.29" y="963.39" width="11.7" height="11.7" fill="#800080"/>
<rect x="326.26" y="924.72" width="11.7" height="11.7" fill="#800080"/>
<rect x="398.29" y="850.22" width="11.7" height="11.7" fill="#800080"/>
<rect x="478.41" y="777.5" width="11.7" height="11.7" fill="#800080"/>
<rect x="529.66" y="737.07" width="11.7" height="11.7" fill="#800080"/>
<rect x="577.51" y="705.29" width="11.7" height="11.7" fill="#800080"/>
<rect x="660.73" y="667.9" width="11.7" height="11.7" fill="#800080"/>
<rect x="772.62" y="684.36" width="11.7" height="11.7" fill="#800080"/>
<path d="M143.08 1035.25L161.69 1036.65M193.94 1031.8L215.73 1025.7M232.11 1021.15L265.97 1011.8M281.98 1006.21L295.12 1000.61M311.03 994.67L354.58 980.67M370.67 975.16L409.03 961.23M424.7 954.68L436.32 949.17M451.8 942.16L455.97 940.35M471.14 932.74L480.49 927.36M495.81 920.12L525.25 909.04" fill="none" stroke="#650b0b" stroke-width="1.7"/>
<polygon points="134.6,1028.77 140.78,1033.26 138.42,1040.53 130.78,1040.53 128.42,1033.26" fill="#fff" stroke="#650b0b" stroke-width="1.45"/>
<polygon points="170.17,1031.44 176.35,1035.93 173.99,1043.19 166.34,1043.19 163.98,1035.93" fill="#fff" stroke="#650b0b" stroke-width="1.45"/>
<polygon points="185.75,1028.23 191.93,1032.73 189.57,1039.99 181.93,1039.99 179.57,1032.73" fill="#fff" stroke="#650b0b" stroke-width="1.45"/>
<polygon points="223.91,1017.56 230.09,1022.06 227.73,1029.32 220.09,1029.32 217.73,1022.06" fill="#fff" stroke="#650b0b" stroke-width="1.45"/>
<polygon points="274.16,1003.69 280.35,1008.18 277.98,1015.45 270.34,1015.45 267.98,1008.18" fill="#fff" stroke="#650b0b" stroke-width="1.45"/>
<polygon points="302.94,991.42 309.12,995.91 306.76,1003.18 299.11,1003.18 296.75,995.91" fill="#fff" stroke="#650b0b" stroke-width="1.45"/>
<polygon points="362.68,972.22 368.86,976.71 366.5,983.98 358.86,983.98 356.49,976.71" fill="#fff" stroke="#650b0b" stroke-width="1.45"/>
<polygon points="417.02,952.48 423.21,956.97 420.84,964.24 413.2,964.24 410.84,956.97" fill="#fff" stroke="#650b0b" stroke-width="1.45"/>
<polygon points="444,939.67 450.18,944.16 447.82,951.43 440.18,951.43 437.82,944.16" fill="#fff" stroke="#650b0b" stroke-width="1.45"/>
<polygon points="463.78,931.14 469.96,935.63 467.6,942.9 459.96,942.9 457.6,935.63" fill="#fff" stroke="#650b0b" stroke-width="1.45"/>
<polygon points="487.85,917.27 494.04,921.76 491.67,929.02 484.03,929.02 481.67,921.76" fill="#fff" stroke="#650b0b" stroke-width="1.45"/>
<polygon points="533.21,900.19 539.39,904.69 537.03,911.95 529.39,911.95 527.03,904.69" fill="#fff" stroke="#650b0b" stroke-width="1.45"/>
<path d="M143.04 1036.69L161.92 1038.95M194.53 1034.8L215.73 1031.23M232.35 1027.73L266.42 1019.1M282.66 1014.14L296.43 1009.21M312.55 1003.83L358.35 989.65M374.46 984.22L416.83 968.72M432.78 962.83L448.32 957.03M463.95 950.39L474.29 945.45M489.69 938.25L504.5 931.46M520.33 925.35L558.07 913.41" fill="none" stroke="#c91717" stroke-width="1.7"/>
<polygon points="142.2,1035.68 130.2,1042.61 130.2,1028.76" fill="#fff" stroke="#c91717" stroke-width="1.45"/>
<polygon points="177.96,1039.95 165.96,1046.88 165.96,1033.02" fill="#fff" stroke="#c91717" stroke-width="1.45"/>
<polygon points="193.75,1036.22 181.75,1043.15 181.75,1029.29" fill="#fff" stroke="#c91717" stroke-width="1.45"/>
<polygon points="231.71,1029.82 219.71,1036.74 219.71,1022.89" fill="#fff" stroke="#c91717" stroke-width="1.45"/>
<polygon points="282.26,1017.01 270.26,1023.94 270.26,1010.08" fill="#fff" stroke="#c91717" stroke-width="1.45"/>
<polygon points="312.03,1006.34 300.03,1013.27 300.03,999.41" fill="#fff" stroke="#c91717" stroke-width="1.45"/>
<polygon points="374.07,987.14 362.07,994.06 362.07,980.21" fill="#fff" stroke="#c91717" stroke-width="1.45"/>
<polygon points="432.42,965.8 420.42,972.72 420.42,958.87" fill="#fff" stroke="#c91717" stroke-width="1.45"/>
<polygon points="463.89,954.06 451.89,960.99 451.89,947.13" fill="#fff" stroke="#c91717" stroke-width="1.45"/>
<polygon points="489.56,941.79 477.56,948.72 477.56,934.86" fill="#fff" stroke="#c91717" stroke-width="1.45"/>
<polygon points="519.83,927.92 507.83,934.85 507.83,920.99" fill="#fff" stroke="#c91717" stroke-width="1.45"/>
<polygon points="573.78,910.85 561.78,917.77 561.78,903.92" fill="#fff" stroke="#c91717" stroke-width="1.45"/>
<path d="M143.05 1038.19L166.11 1040.65M182.91 1039.98L183.19 1039.93M199.87 1036.64L224.68 1031.53M241.39 1028.41L275.57 1022.68M292.13 1018.96L307.75 1014.53M324.16 1010.11L372.42 997.78M388.83 993.34L437.92 979.33M454.23 974.53L476.62 967.73M492.73 962.32L508.65 956.46M524.55 950.44L553.96 939M570.03 933.51L616.97 919.65" fill="none" stroke="#e0872d" stroke-width="1.7"/>
<polygon points="134.6,1030.29 141.6,1037.29 134.6,1044.29 127.6,1037.29" fill="#fff" stroke="#e0872d" stroke-width="1.45"/>
<polygon points="174.56,1034.55 181.56,1041.55 174.56,1048.55 167.56,1041.55" fill="#fff" stroke="#e0872d" stroke-width="1.45"/>
<polygon points="191.54,1031.35 198.54,1038.35 191.54,1045.35 184.54,1038.35" fill="#fff" stroke="#e0872d" stroke-width="1.45"/>
<polygon points="233,1022.82 240,1029.82 233,1036.82 226,1029.82" fill="#fff" stroke="#e0872d" stroke-width="1.45"/>
<polygon points="283.95,1014.28 290.95,1021.28 283.95,1028.28 276.95,1021.28" fill="#fff" stroke="#e0872d" stroke-width="1.45"/>
<polygon points="315.92,1005.21 322.92,1012.21 315.92,1019.21 308.92,1012.21" fill="#fff" stroke="#e0872d" stroke-width="1.45"/>
<polygon points="380.66,988.67 387.66,995.67 380.66,1002.67 373.66,995.67" fill="#fff" stroke="#e0872d" stroke-width="1.45"/>
<polygon points="446.1,970 453.1,977 446.1,984 439.1,977" fill="#fff" stroke="#e0872d" stroke-width="1.45"/>
<polygon points="484.76,958.26 491.76,965.26 484.76,972.26 477.76,965.26" fill="#fff" stroke="#e0872d" stroke-width="1.45"/>
<polygon points="516.63,946.53 523.63,953.53 516.63,960.53 509.63,953.53" fill="#fff" stroke="#e0872d" stroke-width="1.45"/>
<polygon points="561.88,928.92 568.88,935.92 561.88,942.92 554.88,935.92" fill="#fff" stroke="#e0872d" stroke-width="1.45"/>
<polygon points="625.12,910.25 632.12,917.25 625.12,924.25 618.12,917.25" fill="#fff" stroke="#e0872d" stroke-width="1.45"/>
<path d="M143.09 1043.06L167.67 1044.32M184.51 1043.18L184.79 1043.13M201.52 1040.09L227.63 1035.54M244.42 1032.92L281.53 1027.78M298.21 1024.63L312.75 1021.13M329.3 1017.22L379.27 1005.6M395.86 1001.89L448.97 990.52M465.52 986.63L492.81 979.64M509.26 975.37L531.38 969.56M547.65 964.66L592.8 949.32M609.04 944.35L668.97 928.02" fill="none" stroke="#177017" stroke-width="1.7"/>
<polygon points="134.6,1050.22 127.67,1038.22 141.53,1038.22" fill="#fff" stroke="#177017" stroke-width="1.45"/>
<polygon points="176.16,1052.35 169.23,1040.35 183.09,1040.35" fill="#fff" stroke="#177017" stroke-width="1.45"/>
<polygon points="193.14,1049.15 186.21,1037.15 200.07,1037.15" fill="#fff" stroke="#177017" stroke-width="1.45"/>
<polygon points="236,1041.68 229.07,1029.68 242.93,1029.68" fill="#fff" stroke="#177017" stroke-width="1.45"/>
<polygon points="289.95,1034.21 283.02,1022.22 296.88,1022.22" fill="#fff" stroke="#177017" stroke-width="1.45"/>
<polygon points="321.02,1026.75 314.09,1014.75 327.95,1014.75" fill="#fff" stroke="#177017" stroke-width="1.45"/>
<polygon points="387.55,1011.27 380.62,999.27 394.48,999.27" fill="#fff" stroke="#177017" stroke-width="1.45"/>
<polygon points="457.28,996.34 450.36,984.34 464.21,984.34" fill="#fff" stroke="#177017" stroke-width="1.45"/>
<polygon points="501.04,985.13 494.11,973.13 507.97,973.13" fill="#fff" stroke="#177017" stroke-width="1.45"/>
<polygon points="539.6,975 532.68,963 546.53,963" fill="#fff" stroke="#177017" stroke-width="1.45"/>
<polygon points="600.84,954.19 593.92,942.19 607.77,942.19" fill="#fff" stroke="#177017" stroke-width="1.45"/>
<polygon points="677.17,933.38 670.24,921.38 684.1,921.38" fill="#fff" stroke="#177017" stroke-width="1.45"/>
<path d="M143.1 1045.93L168.06 1046.25M184.93 1044.86L186.17 1044.64M202.82 1041.24L230.22 1034.93M246.93 1031.94L284.41 1027.16M301.27 1024.98L316.99 1022.92M333.69 1019.89L385.97 1007.73M402.6 1004.23L459.22 993.52M475.86 990.05L506.14 983.15M522.69 979.28L548.22 973.12M564.65 968.75L617.96 953.23M634.36 948.77L706.19 930.54" fill="none" stroke="#0909bb" stroke-width="1.7"/>
<polygon points="134.6,1038.22 141.53,1050.22 127.67,1050.22" fill="#fff" stroke="#0909bb" stroke-width="1.45"/>
<polygon points="176.56,1038.75 183.49,1050.75 169.63,1050.75" fill="#fff" stroke="#0909bb" stroke-width="1.45"/>
<polygon points="194.54,1035.55 201.47,1047.55 187.61,1047.55" fill="#fff" stroke="#0909bb" stroke-width="1.45"/>
<polygon points="238.5,1025.42 245.43,1037.42 231.57,1037.42" fill="#fff" stroke="#0909bb" stroke-width="1.45"/>
<polygon points="292.85,1018.48 299.77,1030.48 285.92,1030.48" fill="#fff" stroke="#0909bb" stroke-width="1.45"/>
<polygon points="325.41,1014.21 332.34,1026.21 318.49,1026.21" fill="#fff" stroke="#0909bb" stroke-width="1.45"/>
<polygon points="394.25,998.21 401.17,1010.21 387.32,1010.21" fill="#fff" stroke="#0909bb" stroke-width="1.45"/>
<polygon points="467.57,984.34 474.5,996.34 460.65,996.34" fill="#fff" stroke="#0909bb" stroke-width="1.45"/>
<polygon points="514.43,973.67 521.36,985.67 507.5,985.67" fill="#fff" stroke="#0909bb" stroke-width="1.45"/>
<polygon points="556.49,963.53 563.42,975.53 549.56,975.53" fill="#fff" stroke="#0909bb" stroke-width="1.45"/>
<polygon points="626.12,943.26 633.05,955.26 619.19,955.26" fill="#fff" stroke="#0909bb" stroke-width="1.45"/>
<polygon points="714.43,920.85 721.36,932.85 707.5,932.85" fill="#fff" stroke="#0909bb" stroke-width="1.45"/>
<path d="M143.1 1047.95L166.21 1047.95M199.13 1043.84L222.49 1039.8M239.29 1037.26L275.91 1032.51M292.79 1030.42L307.59 1028.68M324.34 1025.87L376.31 1014.55M393 1011.3L453.52 1000.85M470.22 997.67L504.65 990.47M521.24 986.76L551.5 979.51M568.06 975.69L635.7 960.7M652.21 956.66L727.24 936.52" fill="none" stroke="#04045e" stroke-width="1.7"/>
<circle cx="134.6" cy="1047.95" r="5.7" fill="#fff" stroke="#04045e" stroke-width="1.45"/>
<circle cx="174.71" cy="1047.95" r="5.7" fill="#fff" stroke="#04045e" stroke-width="1.45"/>
<circle cx="190.75" cy="1045.29" r="5.7" fill="#fff" stroke="#04045e" stroke-width="1.45"/>
<circle cx="230.86" cy="1038.35" r="5.7" fill="#fff" stroke="#04045e" stroke-width="1.45"/>
<circle cx="284.34" cy="1031.42" r="5.7" fill="#fff" stroke="#04045e" stroke-width="1.45"/>
<circle cx="316.03" cy="1027.68" r="5.7" fill="#fff" stroke="#04045e" stroke-width="1.45"/>
<circle cx="384.62" cy="1012.74" r="5.7" fill="#fff" stroke="#04045e" stroke-width="1.45"/>
<circle cx="461.9" cy="999.41" r="5.7" fill="#fff" stroke="#04045e" stroke-width="1.45"/>
<circle cx="512.97" cy="988.74" r="5.7" fill="#fff" stroke="#04045e" stroke-width="1.45"/>
<circle cx="559.77" cy="977.53" r="5.7" fill="#fff" stroke="#04045e" stroke-width="1.45"/>
<circle cx="644" cy="958.86" r="5.7" fill="#fff" stroke="#04045e" stroke-width="1.45"/>
<circle cx="735.45" cy="934.32" r="5.7" fill="#fff" stroke="#04045e" stroke-width="1.45"/>
<path d="M143.08 1051.18L170.17 1049.54M187.1 1048.04L188.5 1047.87M205.35 1045.67L232.58 1041.71M249.43 1039.46L289.7 1034.57M306.59 1032.62L323.66 1030.74M340.51 1028.57L395.73 1020.39M412.47 1017.48L475.92 1004.81M492.58 1001.41L527.19 994.2M543.82 990.71L575.05 984.1M591.68 980.58L658.26 966.49M674.85 962.76L770.2 940.03" fill="none" stroke="#691069" stroke-width="1.7"/>
<rect x="129.5" y="1046.59" width="10.2" height="10.2" fill="#fff" stroke="#691069" stroke-width="1.45"/>
<rect x="173.56" y="1043.92" width="10.2" height="10.2" fill="#fff" stroke="#691069" stroke-width="1.45"/>
<rect x="191.84" y="1041.79" width="10.2" height="10.2" fill="#fff" stroke="#691069" stroke-width="1.45"/>
<rect x="235.9" y="1035.39" width="10.2" height="10.2" fill="#fff" stroke="#691069" stroke-width="1.45"/>
<rect x="293.04" y="1028.45" width="10.2" height="10.2" fill="#fff" stroke="#691069" stroke-width="1.45"/>
<rect x="327.01" y="1024.72" width="10.2" height="10.2" fill="#fff" stroke="#691069" stroke-width="1.45"/>
<rect x="399.04" y="1014.05" width="10.2" height="10.2" fill="#fff" stroke="#691069" stroke-width="1.45"/>
<rect x="479.16" y="998.04" width="10.2" height="10.2" fill="#fff" stroke="#691069" stroke-width="1.45"/>
<rect x="530.41" y="987.37" width="10.2" height="10.2" fill="#fff" stroke="#691069" stroke-width="1.45"/>
<rect x="578.26" y="977.23" width="10.2" height="10.2" fill="#fff" stroke="#691069" stroke-width="1.45"/>
<rect x="661.48" y="959.63" width="10.2" height="10.2" fill="#fff" stroke="#691069" stroke-width="1.45"/>
<rect x="773.37" y="932.95" width="10.2" height="10.2" fill="#fff" stroke="#691069" stroke-width="1.45"/>
</g>
<rect x="100" y="659" width="705" height="533.5" fill="none" stroke="#000" stroke-width="2.3"/>
<path d="M134.6 1192.5v-10M134.6 659v10M201.45 1192.5v-5M201.45 659v5M268.3 1192.5v-10M268.3 659v10M335.15 1192.5v-5M335.15 659v5M402 1192.5v-10M402 659v10M468.85 1192.5v-5M468.85 659v5M535.7 1192.5v-10M535.7 659v10M602.55 1192.5v-5M602.55 659v5M669.4 1192.5v-10M669.4 659v10M736.25 1192.5v-5M736.25 659v5M803.1 1192.5v-10M803.1 659v10M100 1127.31h5M100 1062.12h10M100 996.94h5M100 931.75h10M100 866.56h5M100 801.38h10M100 736.19h5M100 671h10M805 1192h-10M805 1138.65h-5M805 1085.3h-10M805 1031.95h-5M805 978.6h-10M805 925.25h-5M805 871.9h-10M805 818.55h-5M805 765.2h-10M805 711.85h-5" stroke="#000" stroke-width="2.3" fill="none"/>
<text transform="translate(51.78,1200.00) scale(1.0600,1)" font-size="25.5">0.0</text>
<text transform="translate(51.86,1069.62) scale(1.0600,1)" font-size="25.5">0.5</text>
<text transform="translate(51.78,939.25) scale(1.0600,1)" font-size="25.5">1.0</text>
<text transform="translate(51.86,808.88) scale(1.0600,1)" font-size="25.5">1.5</text>
<text transform="translate(51.78,678.50) scale(1.0600,1)" font-size="25.5">2.0</text>
<text transform="translate(116.14,1224.30) scale(1.0700,1)" font-size="25.5">0.0</text>
<text transform="translate(249.97,1224.30) scale(1.0700,1)" font-size="25.5">0.1</text>
<text transform="translate(383.69,1224.30) scale(1.0700,1)" font-size="25.5">0.2</text>
<text transform="translate(517.31,1224.30) scale(1.0700,1)" font-size="25.5">0.3</text>
<text transform="translate(650.80,1224.30) scale(1.0700,1)" font-size="25.5">0.4</text>
<text transform="translate(784.68,1224.30) scale(1.0700,1)" font-size="25.5">0.5</text>
<text transform="translate(815.45,1198.60) scale(1.0600,1)" font-size="25.5">0</text>
<text transform="translate(815.15,1091.90) scale(1.0600,1)" font-size="25.5">20</text>
<text transform="translate(815.88,985.20) scale(1.0600,1)" font-size="25.5">40</text>
<text transform="translate(815.12,878.50) scale(1.0600,1)" font-size="25.5">60</text>
<text transform="translate(815.34,771.80) scale(1.0600,1)" font-size="25.5">80</text>
<text transform="translate(816.85,665.10) scale(1.0600,1)" font-size="25.5">100</text>
<text transform="translate(43.20,1006.70) rotate(-90) scale(1.0300,1)" font-size="26">Power (W)</text>
<text transform="translate(891.40,1074.39) rotate(-90) scale(1.0318,1)" font-size="26.4">Cell Temperature (&#176;C)</text>
<text transform="translate(309.93,1273.50) scale(1.0329,1)" font-size="26">Current Density (A cm</text>
<text transform="translate(573.09,1258.90) scale(0.7000,1)" font-size="13.2">-</text>
<text transform="translate(576.53,1258.90) scale(1.3125,1)" font-size="13.2">2</text>
<text transform="translate(587.34,1273.50) scale(1.0000,1)" font-size="26">)</text>
<text transform="translate(-0.67,676.20) scale(0.9983,1)" font-size="38.1" style="font-family:'Liberation Serif', serif">(b)</text>
<polygon points="339,751.9 351.5,740.4 351.5,745.6 448,745.6 448,757.7 351.5,757.7 351.5,763.5" fill="#000"/>
<polygon points="689.1,978.9 755.5,978.9 755.5,973.3 766.6,984.4 755.5,995.9 755.5,990 689.1,990" fill="#fff" stroke="#000" stroke-width="1.7"/>
</g>
</svg></body></html>
